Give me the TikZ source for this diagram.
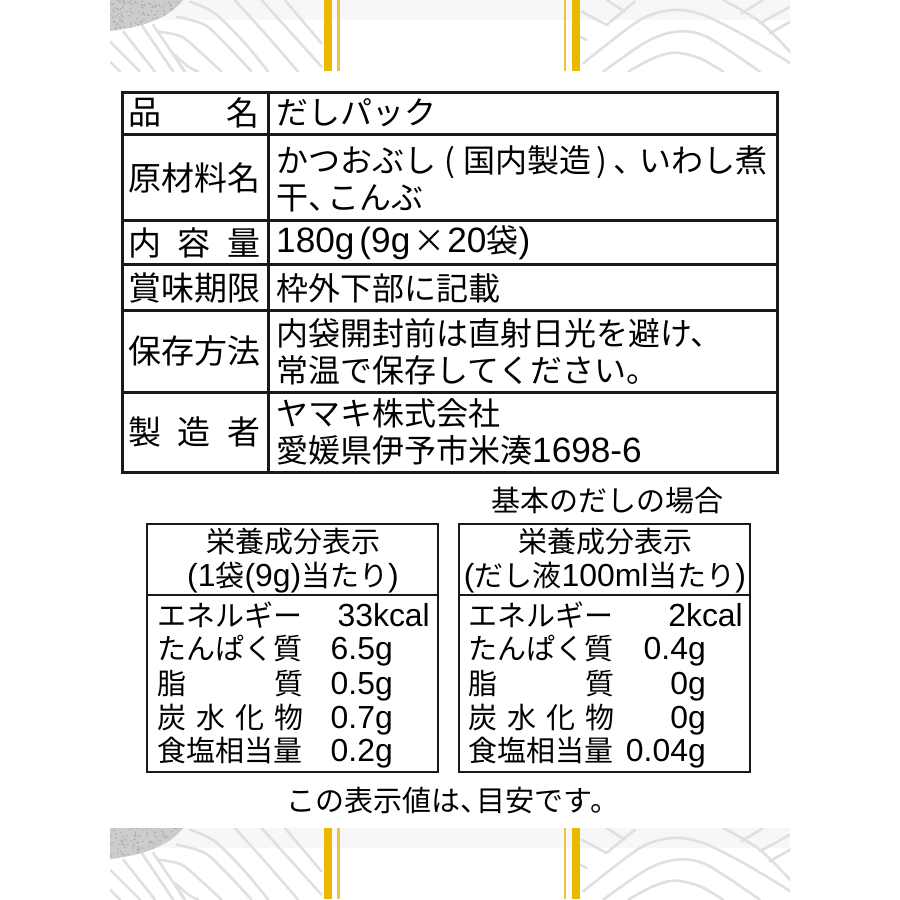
\documentclass[tikz,border=0pt]{standalone}
\usepackage{fontspec}
\setmainfont{Noto Sans CJK JP}
\newfontfamily\latnfont[Scale=1.1]{Liberation Sans}
\newcommand{\la}[1]{{\latnfont #1}}
\definecolor{gold}{HTML}{E8B900}
\definecolor{paleg}{HTML}{EBC63A}
\tikzset{
    cell/.style={anchor=west,inner sep=0pt,align=left,font=\fontsize{32}{37}\selectfont},
    head/.style={anchor=center,inner sep=0pt,font=\fontsize{33}{38}\selectfont},
    small/.style={anchor=west,inner sep=0pt,yshift=-2.5pt,text height=23pt,text depth=6pt,font=\fontsize{29}{34}\selectfont},
    smallr/.style={small,anchor=east},
    title/.style={anchor=center,inner sep=0pt,align=center,font=\fontsize{29}{34}\selectfont},
    frame/.style={draw=black!90,line width=3pt},
    thinframe/.style={draw=black!90,line width=2.8pt},
    wave/.style={draw=black!12,line width=2.6pt,line cap=round}
}
\newcommand{\wavy}[1]{\draw[wave] plot[smooth] coordinates {#1};}
\begin{document}
\begin{tikzpicture}[x=1pt,y=-1pt]
\useasboundingbox (0,0) rectangle (900,900);
\fill[white] (0,0) rectangle (900,900);
\pgfmathsetseed{7}
% bands
\foreach \top in {0,828}{
    \begin{scope}[yshift=-\top pt]
    \fill[black!3] (110,0) rectangle (790,20);
    \begin{scope}
    \clip (110,0) rectangle (323,71);
    \begin{scope}[shift={(105,0)},x=0.333pt,y=-0.333pt]
    \wavy{(255,5) (330,40) (420,130) (490,215)}
    \wavy{(215,50) (300,75) (370,140) (440,215)}
    \wavy{(160,95) (230,110) (290,160) (350,215)}
    \wavy{(210,165) (250,200) (280,215)}
    \wavy{(210,165) (225,195) (240,215)}
    \wavy{(390,0) (480,100) (580,215)}
    \wavy{(470,0) (560,100) (650,200)}
    \wavy{(540,0) (650,130)}
    \wavy{(55,95) (150,215)}
    \wavy{(110,75) (205,215)}
    \wavy{(145,75) (240,215)}
    \wavy{(15,125) (105,215)}
    \wavy{(15,185) (45,215)}
    \end{scope}
    \fill[black!20] (110,0) -- (183,0) .. controls (170,17) and (145,27) .. (110,31) -- cycle;
    \clip (110,0) -- (183,0) .. controls (170,17) and (145,27) .. (110,31) -- cycle;
    \foreach \i in {1,...,140}{
        \fill[black!32] ({110+75*rnd},{32*rnd}) circle (0.9pt);
    }
    \end{scope}
    \begin{scope}
    \clip (579,0) rectangle (790,71);
    \begin{scope}[shift={(560,0)},x=0.333pt,y=-0.333pt]
    \wavy{(70,190) (240,60) (340,30) (430,45) (560,110) (700,195)}
    \wavy{(130,215) (260,125) (350,95) (440,110) (600,215)}
    \wavy{(205,215) (280,175) (345,158) (420,175) (490,215)}
    \wavy{(65,35) (140,75)}
    \wavy{(140,75) (200,25) (225,5)}
    \wavy{(140,0) (195,35)}
    \wavy{(490,0) (600,65) (700,165)}
    \wavy{(545,40) (610,0)}
    \wavy{(600,70) (700,15)}
    \wavy{(630,100) (700,60)}
    \wavy{(60,110) (80,120)}
    \end{scope}
    \end{scope}
    \fill[gold] (323.5,0) rectangle (332,71);
    \fill[paleg] (337,0) rectangle (339.5,71);
    \fill[paleg] (563.5,0) rectangle (566,71);
    \fill[gold] (571.5,0) rectangle (579.5,71);
    \end{scope}
}
% main table
\draw[frame] (122,92) rectangle (777,472);
\draw[frame] (268,92) -- (268,472);
\foreach \rowy in {134,220,264,310,392}{
    \draw[frame] (122,\rowy) -- (777,\rowy);
}
\node[head] (n1a) at (145,113) {品};
\node[head] (n1b) at (243,113) {名};
\node[cell] (v1) at (276,113) {だしパック};
\node[head] (n2) at (194,178) {原材料名};
\node[cell] (v2) at (276,179) {かつおぶし\makebox[27pt]{(}国内製造\makebox[22pt]{)}\makebox[26pt][l]{、}いわし煮\\干、\kern-0.4em こんぶ};
\node[head] (n3) at (194,243) {内\hspace{0.5em}容\hspace{0.5em}量};
\node[cell] (v3) at (276,243) {\la{180g}\kern5pt\la{(9g}\kern3pt×\kern2pt\la{20}袋\la{)}};
\node[head] (n4) at (194,288) {賞味期限};
\node[cell] (v4) at (276,288) {枠外下部に記載};
\node[head] (n5) at (194,351) {保存方法};
\node[cell] (v5) at (276,352) {内袋開封前は直射日光を避け、\\常温で保存してください。};
\node[head] (n6) at (194,432) {製\hspace{0.5em}造\hspace{0.5em}者};
\node[cell] (v6) at (276,432) {ヤマキ株式会社\\愛媛県伊予市米湊\la{1698-6}};
% nutrition tables
\node[title] (base) at (607,501) {基本のだしの場合};
\draw[thinframe] (147,524) rectangle (438,772);
\draw[thinframe,line width=2pt] (147,595) -- (438,595);
\node[title] (t1) at (293,561) {栄養成分表示\\\la{(1}袋\la{(9g)}当たり\la{)}};
\foreach \ypos/\lab/\val [count=\i] in {648/たんぱく質/6.5g,683/\makebox[146pt][s]{脂\hfill 質}/0.5g,717/\makebox[146pt][s]{炭\hfill 水\hfill 化\hfill 物}/0.7g,750/食塩相当量/0.2g}{
    \node[small] (a\i) at (157,\ypos) {\lab};
    \node[smallr] (b\i) at (393,\ypos) {\la{\val}};
}
\node[small] (a0) at (157,615) {エネルギー};
\node[smallr] (b0) at (430,615) {\la{33kcal}};
\draw[thinframe] (459,524) rectangle (750,772);
\draw[thinframe,line width=2pt] (459,595) -- (750,595);
\node[title] (t2) at (605,561) {栄養成分表示\\\la{(}だし液\la{100ml}当たり\la{)}};
\foreach \ypos/\lab/\val [count=\i] in {648/たんぱく質/0.4g,683/\makebox[146pt][s]{脂\hfill 質}/0g,717/\makebox[146pt][s]{炭\hfill 水\hfill 化\hfill 物}/0g,750/食塩相当量/0.04g}{
    \node[small] (c\i) at (468,\ypos) {\lab};
    \node[smallr] (d\i) at (706,\ypos) {\la{\val}};
}
\node[small] (c0) at (468,615) {エネルギー};
\node[smallr] (d0) at (743,615) {\la{2kcal}};
\node[title] (note) at (453,800) {この表示値は、\kern-0.45em 目安です。};
\end{tikzpicture}
\end{document}
